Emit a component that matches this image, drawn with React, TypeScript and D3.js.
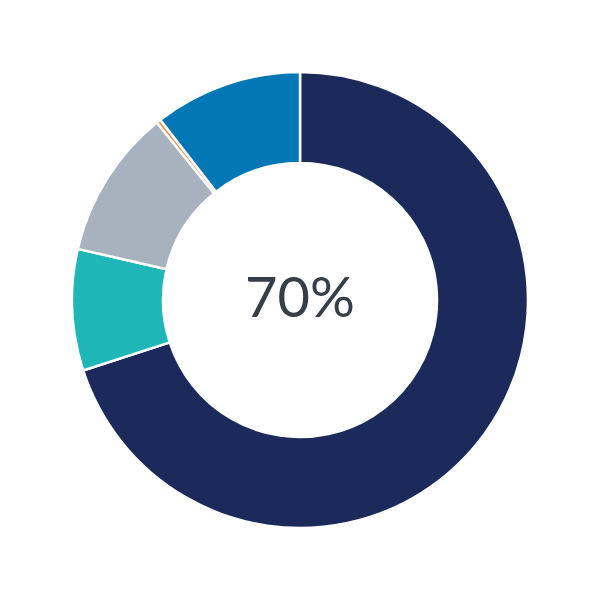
import React from "react";
import * as d3 from "d3";

const labels = ["A", "B", "C", "D", "E"];
const values = [70, 8.6, 10.6, 0.3, 10.5];
const colors = ["#1b2a5a", "#1fb6b7", "#a8b2bf", "#ee8a4f", "#0277b5"];
const centerLabel = "70%";

export default function App() {
  const width = 600, height = 600;
  const cx = 300, cy = 300;
  const pie = d3.pie<number>().sort(null).value((d) => d);
  const arcs = pie(values);
  const arc = d3.arc<d3.PieArcDatum<number>>().innerRadius(137).outerRadius(228);
  return (
    <svg width={width} height={height} style={{ position: "absolute", left: 0, top: 0 }}>
      <rect width={width} height={height} fill="#fff" />
      <g transform={`translate(${cx},${cy})`}>
        {arcs.map((a, i) => (
          <path key={labels[i]} d={arc(a) || ""} fill={colors[i]} stroke="#fff" strokeWidth={2.5} />
        ))}
        <text
          x={0}
          y={17}
          textAnchor="middle"
          fontFamily="Lato, sans-serif"
          fontWeight={400}
          fontSize={56}
          fill="#363e47"
        >
          {centerLabel}
        </text>
      </g>
    </svg>
  );
}
